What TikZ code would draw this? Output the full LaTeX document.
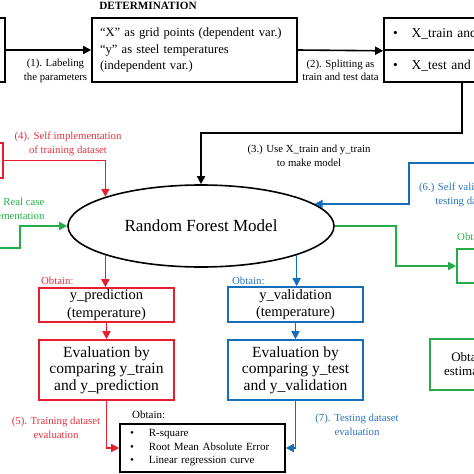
\documentclass[tikz,border=0pt]{standalone}
\usepackage{fontspec}
\setmainfont{Liberation Serif}
\usetikzlibrary{shapes.geometric,arrows.meta}
\definecolor{flowred}{RGB}{230,30,45}
\definecolor{flowredtext}{RGB}{222,52,62}
\definecolor{flowblue}{RGB}{20,110,185}
\definecolor{flowbluetext}{RGB}{40,118,190}
\definecolor{flowgreen}{RGB}{36,172,72}
\definecolor{flowgreentext}{RGB}{40,178,70}

\tikzset{
  box/.style={draw, line width=1.6pt, inner sep=0pt, align=center, font=\fontsize{14.5}{17.5}\selectfont},
  link/.style={line width=1.6pt, -{Triangle[length=8pt,width=8pt]}},
  note/.style={align=center, font=\fontsize{10.8}{13.8}\selectfont},
}

\begin{document}
\begin{tikzpicture}[x=1pt,y=-1pt]
\useasboundingbox (0,0) rectangle (474,474);
\clip (0,0) rectangle (474,474);

% top row
\node[box, minimum width=65, minimum height=64] (input) at (-27.5,50) {};
\node[font=\bfseries\fontsize{11.2}{12}\selectfont] (determ) at (148,6) {DETERMINATION};
\node[box, minimum width=205, minimum height=64, text width=189, align=left, font=\fontsize{12.6}{16.5}\selectfont] (labels) at (194.5,50) {“X” as grid points (dependent var.)\\“y” as steel temperatures\\(independent var.)};
\node[box, minimum width=176, minimum height=32, text width=158, align=left, font=\fontsize{13.5}{15}\selectfont] (train) at (472,34) {\textbullet\hspace{14pt}X\_train and y\_train};
\node[box, minimum width=176, minimum height=32, text width=158, align=left, font=\fontsize{13.5}{15}\selectfont] (test) at (472,66) {\textbullet\hspace{14pt}X\_test and y\_test};

\draw[link] (input.east) -- (labels.west) node[note, midway, below=5pt, xshift=7pt] {(1). Labeling\\the parameters};
\draw[link] (labels.east) -- (train.south west) node[note, midway, below=5pt] {(2). Splitting as\\train and test data};

% model
\node[draw, ellipse, line width=1.6pt, minimum width=266, minimum height=82, inner sep=0pt, font=\fontsize{17}{20}\selectfont] (model) at (201,226) {Random Forest Model};

\coordinate (trainturn) at (462,133);
\draw[link] (test.south -| trainturn) -- (trainturn) -| (model.north);
\node[note] (uselabel) at (309,155.5) {(3.) Use X\_train and y\_train\\to make model};

% training branch
\node[box, draw=flowred, minimum width=63, minimum height=35] (selftrain) at (-28.5,160.5) {};
\draw[link, flowred] (selftrain.east) -| (model.163);
\node[note, text=flowredtext] (selflabel) at (68,143.5) {(4). Self implementation\\of training dataset};

\node[note, anchor=west, inner sep=0pt, text=flowredtext] (predobtain) at (41,281) {Obtain:};
\node[box, draw=flowred, minimum width=135, minimum height=34] (pred) at (106.5,305) {y\_prediction\\(temperature)};
\node[box, draw=flowred, minimum width=135, minimum height=60, font=\fontsize{15.5}{16.7}\selectfont] (evaltrain) at (106.5,370) {Evaluation by\\comparing y\_train\\and y\_prediction};
\draw[link, flowred] (model.197) -- (model.197 |- pred.north);
\draw[link, flowred] (pred) -- (evaltrain);
\node[note, text=flowredtext] (trainlabel) at (56,427.5) {(5). Training dataset\\evaluation};

% testing branch
\coordinate (validin) at (490,163);
\coordinate (validturn) at (409,163);
\draw[link, flowblue] (validin) -- (validturn) |- (model.11);
\node[note, text=flowbluetext] (validlabel) at (466,195) {(6.) Self validation of\\testing dataset};

\node[note, anchor=west, inner sep=0pt, text=flowbluetext] (validobtain) at (232,281) {Obtain:};
\node[box, draw=flowblue, minimum width=135, minimum height=35] (valid) at (295.5,304.5) {y\_validation\\(temperature)};
\node[box, draw=flowblue, minimum width=135, minimum height=60, font=\fontsize{15.5}{16.7}\selectfont] (evaltest) at (295.5,370) {Evaluation by\\comparing y\_test\\and y\_validation};
\draw[link, flowblue] (model.-17) -- (model.-17 |- valid.north);
\draw[link, flowblue] (valid) -- (evaltest);
\node[note, text=flowbluetext] (testlabel) at (357,425) {(7). Testing dataset\\evaluation};

% results
\node[note, anchor=west, inner sep=0pt, font=\fontsize{11}{13.5}\selectfont] (metricobtain) at (132,415) {Obtain:};
\node[box, minimum width=165, minimum height=48, text width=145, align=left, font=\fontsize{11}{13.5}\selectfont] (metrics) at (202.5,448) {\textbullet\hspace{15pt}R-square\\\textbullet\hspace{15pt}Root Mean Absolute Error\\\textbullet\hspace{15pt}Linear regression curve};
\draw[link, flowred] (evaltrain.south) |- (metrics.west);
\draw[link, flowblue] (evaltest.south) |- (metrics.east);

% real case
\coordinate (realin) at (-5,248);
\coordinate (realturn) at (20,248);
\draw[link, flowgreen] (realin) -- (realturn) |- (model.west);
\node[note, anchor=east, align=right, text=flowgreentext] (reallabel) at (48,209.5) {Real case\\implementation};

\coordinate (estturn) at (396,226);
\node[box, draw=flowgreen, minimum width=102, minimum height=34] (estimate) at (508,266) {};
\draw[link, flowgreen] (model.east) -- (estturn) |- (estimate.west);
\node[note, anchor=west, inner sep=0pt, text=flowgreentext] (estobtain) at (457,237) {Obtain:};
\node[box, draw=flowgreen, minimum width=78, minimum height=51, font=\fontsize{13}{14}\selectfont] (final) at (469,364.5) {Obtain\\estimated};
\end{tikzpicture}
\end{document}
